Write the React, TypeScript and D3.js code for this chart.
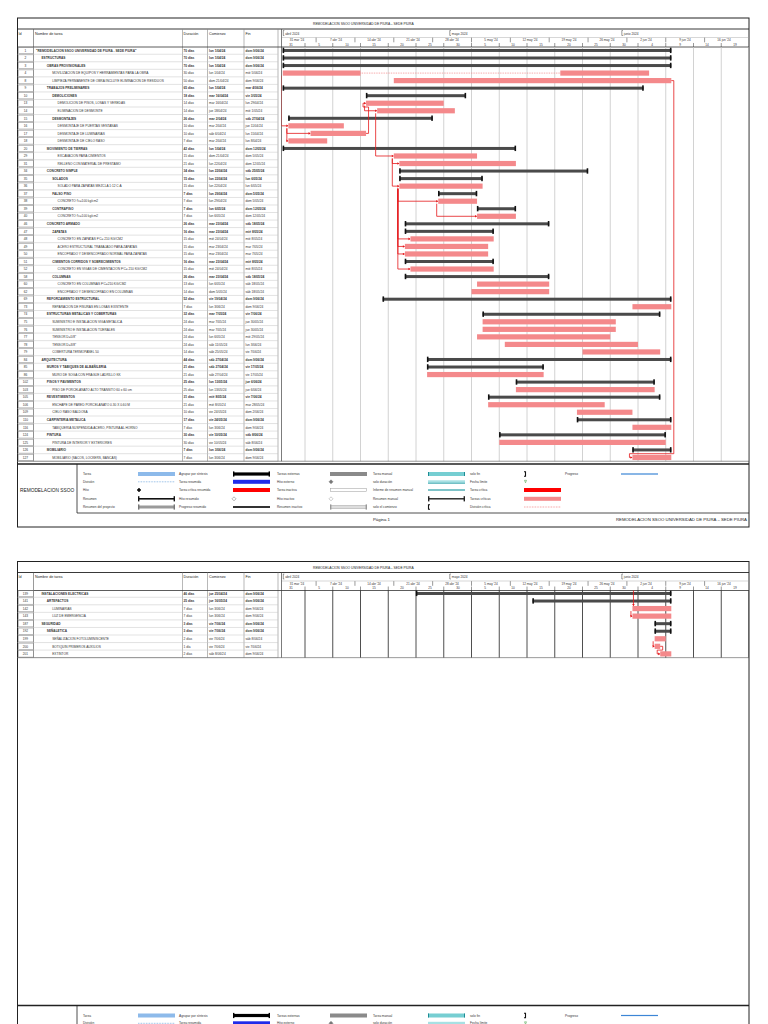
import React from 'react';
import * as d3 from 'd3';

// ---- page 1 tasks ----
const taskIds = [1, 2, 3, 4, 8, 9, 10, 13, 14, 15, 16, 17, 18, 20, 29, 31, 34, 35, 36, 37, 38, 39, 40, 46, 47, 48, 49, 50, 51, 52, 58, 60, 62, 69, 73, 74, 75, 76, 77, 78, 79, 84, 85, 86, 102, 103, 105, 106, 109, 110, 116, 124, 125, 126, 127];
const taskNames = [
  '"REMODELACION SSOO UNIVERSIDAD DE PIURA - SEDE PIURA"', 'ESTRUCTURAS', 'OBRAS PROVISIONALES',
  'MOVILIZACION DE EQUIPOS Y HERRAMIENTAS PARA LA OBRA', 'LIMPIEZA PERMANENTE DE OBRA INCLUYE ELIMINACION DE RESIDUOS',
  'TRABAJOS PRELIMINARES', 'DEMOLICIONES', 'DEMOLICION DE PISOS, LOSAS Y VEREDAS', 'ELIMINACION DE DESMONTE',
  'DESMONTAJES', 'DESMONTAJE DE PUERTAS VENTANAS', 'DESMONTAJE DE LUMINARIAS', 'DESMONTAJE DE CIELO RASO',
  'MOVIMIENTO DE TIERRAS', 'EXCAVACION PARA CIMIENTOS', 'RELLENO CON MATERIAL DE PRESTAMO', 'CONCRETO SIMPLE',
  'SOLADOS', 'SOLADO PARA ZAPATAS MEZCLA 1:12 C:A', 'FALSO PISO', "CONCRETO f'c=100 kg/cm2", 'CONTRAPISO',
  "CONCRETO f'c=100 kg/cm2", 'CONCRETO ARMADO', 'ZAPATAS', "CONCRETO EN ZAPATAS F'C= 210 KG/CM2",
  'ACERO ESTRUCTURAL TRABAJADO PARA ZAPATAS', 'ENCOFRADO Y DESENCOFRADO NORMAL PARA ZAPATAS',
  'CIMIENTOS CORRIDOS Y SOBRECIMIENTOS', "CONCRETO EN VIGAS DE CIMENTACION F'C= 210 KG/CM2", 'COLUMNAS',
  "CONCRETO EN COLUMNAS F'C=210 KG/CM2", 'ENCOFRADO Y DESENCOFRADO EN COLUMNAS', 'REFORZAMIENTO ESTRUCTURAL',
  'REPARACION DE FISURAS EN LOSAS EXISTENTE', 'ESTRUCTURAS METALICAS Y COBERTURAS',
  'SUMINISTRO E INSTALACION VIGA METALICA', 'SUMINISTRO E INSTALACION TIJERALES', 'TENSOR D=5/8"', 'TENSOR D=3/8"',
  'COBERTURA TERMOPANEL 50', 'ARQUITECTURA', 'MUROS Y TABIQUES DE ALBAÑILERIA', 'MURO DE SOGA CON FRAGUE LADRILLO KK',
  'PISOS Y PAVIMENTOS', 'PISO DE PORCELANATO ALTO TRANSITO 60 x 60 cm', 'REVESTIMIENTOS',
  'ENCHAPE DE PARED PORCELANATO 0.30 X 0.60 M', 'CIELO RASO BALDOSA', 'CARPINTERIA METALICA',
  'TABIQUERIA SUSPENDIDA ACERO, PINTURA AL HORNO', 'PINTURA', 'PINTURA DE INTERIOR Y EXTERIORES', 'MOBILIARIO',
  'MOBILIARIO (SACOS, LOCKERS, BANCAS)',
];
const taskLevels = [0, 1, 2, 3, 3, 2, 3, 4, 4, 3, 4, 4, 4, 2, 4, 4, 2, 3, 4, 3, 4, 3, 4, 2, 3, 4, 4, 4, 3, 4, 3, 4, 4, 2, 3, 2, 3, 3, 3, 3, 3, 1, 2, 3, 2, 3, 2, 3, 3, 2, 3, 2, 3, 2, 3];
const taskSummary = [1, 1, 1, 0, 0, 1, 1, 0, 0, 1, 0, 0, 0, 1, 0, 0, 1, 1, 0, 1, 0, 1, 0, 1, 1, 0, 0, 0, 1, 0, 1, 0, 0, 1, 0, 1, 0, 0, 0, 0, 0, 1, 1, 0, 1, 0, 1, 0, 0, 1, 0, 1, 0, 1, 0];
const taskStarts = [
  '2024-04-01', '2024-04-01', '2024-04-01', '2024-04-01', '2024-04-21', '2024-04-01', '2024-04-16', '2024-04-16',
  '2024-04-18', '2024-04-02', '2024-04-02', '2024-04-06', '2024-04-02', '2024-04-01', '2024-04-21', '2024-04-22',
  '2024-04-22', '2024-04-22', '2024-04-22', '2024-04-29', '2024-04-29', '2024-05-06', '2024-05-06', '2024-04-23',
  '2024-04-23', '2024-04-24', '2024-04-23', '2024-04-23', '2024-04-23', '2024-04-24', '2024-04-23', '2024-05-06',
  '2024-05-05', '2024-04-19', '2024-06-03', '2024-05-07', '2024-05-07', '2024-05-07', '2024-05-06', '2024-05-11',
  '2024-05-25', '2024-04-27', '2024-04-27', '2024-04-27', '2024-05-13', '2024-05-13', '2024-05-08', '2024-05-08',
  '2024-05-24', '2024-05-24', '2024-06-03', '2024-05-10', '2024-05-10', '2024-06-03', '2024-06-03',
];
const taskEnds = [
  '2024-06-09', '2024-06-09', '2024-06-09', '2024-06-05', '2024-06-09', '2024-06-04', '2024-05-03', '2024-04-29',
  '2024-05-01', '2024-04-27', '2024-04-11', '2024-04-15', '2024-04-08', '2024-05-12', '2024-05-05', '2024-05-12',
  '2024-05-25', '2024-05-06', '2024-05-06', '2024-05-05', '2024-05-05', '2024-05-12', '2024-05-12', '2024-05-18',
  '2024-05-08', '2024-05-08', '2024-05-07', '2024-05-07', '2024-05-08', '2024-05-08', '2024-05-18', '2024-05-18',
  '2024-05-18', '2024-06-09', '2024-06-09', '2024-06-07', '2024-05-30', '2024-05-30', '2024-05-29', '2024-06-03',
  '2024-06-07', '2024-06-09', '2024-05-17', '2024-05-17', '2024-06-06', '2024-06-06', '2024-06-07', '2024-05-28',
  '2024-06-02', '2024-06-09', '2024-06-09', '2024-06-08', '2024-06-08', '2024-06-09', '2024-06-09',
];
const splitIds = [4];
const splitFrom = ['2024-04-15'];
const splitTo = ['2024-05-20'];

const linkFrom = [4, 16, 16, 17, 13, 14, 29, 29, 36, 38, 36, 36, 36, 36, 8];
const linkTo = [16, 17, 18, 13, 14, 29, 31, 36, 38, 40, 48, 49, 50, 52, 127];
const linkType = ['SS', 'SS', 'SS', 'FS', 'SS', 'SS', 'SS', 'SS', 'SS', 'SS', 'SS', 'SS', 'SS', 'SS', 'FS'];

// ---- page 2 tasks ----
const p2Ids = [139, 141, 142, 143, 187, 192, 199, 200, 201];
const p2Names = ['INSTALACIONES ELECTRICAS', 'ARTEFACTOS', 'LUMINARIAS', 'LUZ DE EMERGENCIA', 'SEGURIDAD', 'SEÑALETICA', 'SEÑALIZACION FOTOLUMINISCENTE', 'BOTIQUIN PRIMEROS AUXILIOS', 'EXTINTOR'];
const p2Levels = [1, 2, 3, 3, 1, 2, 3, 3, 3];
const p2Summary = [1, 1, 0, 0, 1, 1, 0, 0, 0];
const p2Starts = ['2024-04-25', '2024-05-16', '2024-06-03', '2024-06-03', '2024-06-07', '2024-06-07', '2024-06-07', '2024-06-07', '2024-06-08'];
const p2Ends = ['2024-06-09', '2024-06-09', '2024-06-09', '2024-06-09', '2024-06-09', '2024-06-09', '2024-06-08', '2024-06-07', '2024-06-09'];
const p2LinkFrom = [142, 199, 200];
const p2LinkTo = [143, 200, 201];
const p2LinkType = ['SS', 'SS', 'FS'];
const p2Incoming = [142];

const monthNames = ['enero', 'febrero', 'marzo', 'abril', 'mayo', 'junio'];
const monthShort = ['ene', 'feb', 'mar', 'abr', 'may', 'jun'];
const dayAbbr = ['dom', 'lun', 'mar', 'mié', 'jue', 'vie', 'sáb'];

const legendLabels = [
  ['Tarea', 'División', 'Hito', 'Resumen', 'Resumen del proyecto'],
  ['Agrupar por síntesis', 'Tarea resumida', 'Tarea crítica resumida', 'Hito resumido', 'Progreso resumido'],
  ['Tareas externas', 'Hito externo', 'Tarea inactiva', 'Hito inactivo', 'Resumen inactivo'],
  ['Tarea manual', 'solo duración', 'Informe de resumen manual', 'Resumen manual', 'solo el comienzo'],
  ['solo fin', 'Fecha límite', 'Tarea crítica', 'Tareas críticas', 'División crítica'],
  ['Progreso'],
];
const legendSymbols = [
  ['task', 'split', 'milestone', 'summary', 'projsum'],
  ['group', 'rolledTask', 'rolledCrit', 'rolledMile', 'rolledProg'],
  ['external', 'extMile', 'inactive', 'inactMile', 'inactSum'],
  ['manual', 'durOnly', 'manualRollup', 'manualSum', 'startOnly'],
  ['finishOnly', 'deadline', 'crit', 'critPink', 'critSplit'],
  ['progress'],
];

const FONT = '"Liberation Sans", Arial, sans-serif';
const parse = d3.timeParse('%Y-%m-%d');
const origin = new Date(2024, 2, 31);
const X0 = 277.25;
const PX_DAY = 5.55;
const x = d3.scaleTime().domain([origin, d3.timeDay.offset(origin, 90)]).range([X0, X0 + 90 * PX_DAY]);
const L = 17.5, R = 749, TBL_R = 278, G_L = 281.5;
const PINK = '#F4898B';
const RED = '#E4191C';

const fmtDate = (d: Date) => `${dayAbbr[d.getDay()]} ${d.getDate()}/${String(d.getMonth() + 1).padStart(2, '0')}/${String(d.getFullYear()).slice(2)}`;

type Row = { id: number; name: string; level: number; summary: boolean; start: Date; end: Date; dur: number; x0: number; x1: number; y: number; top: number; split: number[] | null };

function buildRows(ids: number[], names: string[], levels: number[], summ: number[], starts: string[], ends: string[], bodyTop: number, rowH: number): Row[] {
  return ids.map((id, i) => {
    const s = parse(starts[i])!, e = parse(ends[i])!;
    const si = splitIds.indexOf(id);
    let gap = 0, split: number[] | null = null;
    if (si >= 0) {
      const gs = parse(splitFrom[si])!, ge = parse(splitTo[si])!;
      gap = d3.timeDay.count(gs, ge) + 1;
      split = [x(gs), x(d3.timeDay.offset(ge, 1))];
    }
    return {
      id, name: names[i], level: levels[i], summary: !!summ[i], start: s, end: e,
      dur: d3.timeDay.count(s, e) + 1 - gap,
      x0: x(s), x1: x(d3.timeDay.offset(e, 1)),
      top: bodyTop + rowH * i, y: bodyTop + rowH * i + rowH / 2, split,
    };
  });
}

function Arrow({ x: ax, y, dir }: { x: number; y: number; dir: 'r' | 'd' }) {
  const p = dir === 'r' ? `M${ax},${y} l-2,-1.3 l0,2.6 z` : `M${ax},${y} l-1.3,-2 l2.6,0 z`;
  return <path d={p} fill={RED} />;
}

function Link({ p, s, type, rowH }: { p: Row; s: Row; type: string; rowH: number }) {
  if (type === 'SS') {
    const lx = p.x0 - 1.5;
    const y0 = s.y > p.y ? p.y + 2.5 : p.y - 2.5;
    return (
      <g>
        <path d={`M${lx},${y0} V${s.y} H${s.x0 - 0.5}`} fill="none" stroke={RED} strokeWidth={0.8} />
        <Arrow x={s.x0} y={s.y} dir="r" />
      </g>
    );
  }
  const ex = p.x1;
  if (s.x0 > ex + 3 && s.y > p.y) {
    return (
      <g>
        <path d={`M${ex},${p.y} H${s.x0 + 1.5} V${s.y - 2.8}`} fill="none" stroke={RED} strokeWidth={0.8} />
        <Arrow x={s.x0 + 1.5} y={s.y - 2.6} dir="d" />
      </g>
    );
  }
  const midY = s.y > p.y ? s.top : s.top + rowH;
  return (
    <g>
      <path d={`M${ex},${p.y} H${ex + 2.5} V${midY} H${s.x0 - 3} V${s.y} H${s.x0 - 0.5}`} fill="none" stroke={RED} strokeWidth={0.8} />
      <Arrow x={s.x0} y={s.y} dir="r" />
    </g>
  );
}

function Bar({ r }: { r: Row }) {
  if (r.summary) {
    return (
      <g>
        <rect x={r.x0} y={r.y - 1.5} width={r.x1 - r.x0} height={3} fill="#4a4a4a" />
        <rect x={r.x0 - 0.2} y={r.y - 2.8} width={1.6} height={5.4} fill="#111" />
        <rect x={r.x1 - 1.4} y={r.y - 2.8} width={1.6} height={5.4} fill="#111" />
      </g>
    );
  }
  if (r.split) {
    return (
      <g>
        <rect x={r.x0} y={r.y - 2.6} width={r.split[0] - r.x0} height={5.2} fill={PINK} />
        <line x1={r.split[0]} x2={r.split[1]} y1={r.y} y2={r.y} stroke={PINK} strokeWidth={0.9} strokeDasharray="0.8 0.9" />
        <rect x={r.split[1]} y={r.y - 2.6} width={r.x1 - r.split[1]} height={5.2} fill={PINK} />
      </g>
    );
  }
  return <rect x={r.x0} y={r.y - 2.6} width={r.x1 - r.x0} height={5.2} fill={PINK} />;
}

function Sym({ kind, x0, y }: { kind: string; x0: number; y: number }) {
  const w = 37, x1 = x0 + w;
  const caps = (c: string) => (
    <g>
      <rect x={x0} y={y - 2.6} width={1.4} height={5.2} fill={c} />
      <rect x={x1 - 1.4} y={y - 2.6} width={1.4} height={5.2} fill={c} />
    </g>
  );
  const dia = (cx: number, fill: string, stroke: string) => <path d={`M${cx},${y - 2} l2,2 l-2,2 l-2,-2 z`} fill={fill} stroke={stroke} strokeWidth={0.5} />;
  switch (kind) {
    case 'task': return <rect x={x0} y={y - 2} width={w} height={4} fill="#8DBAEA" />;
    case 'split': return <line x1={x0} x2={x1} y1={y} y2={y} stroke="#6FA6DD" strokeWidth={0.8} strokeDasharray="0.8 0.8" />;
    case 'milestone': return dia(x0 + 1, '#111', '#111');
    case 'summary': return <g><rect x={x0} y={y - 0.8} width={w} height={1.6} fill="#111" />{caps('#111')}</g>;
    case 'projsum': return <g><rect x={x0} y={y - 1.5} width={w} height={3} fill="#9a9a9a" />{caps('#777')}</g>;
    case 'group': return <g><rect x={x0} y={y - 1.6} width={w} height={3.2} fill="#000" />{caps('#000')}</g>;
    case 'rolledTask': return <rect x={x0} y={y - 2} width={w} height={4} fill="#1F2BEA" />;
    case 'rolledCrit': return <rect x={x0} y={y - 2} width={w} height={4} fill="#FF0000" />;
    case 'rolledMile': return dia(x0 + 1, '#fff', '#666');
    case 'rolledProg': return <rect x={x0} y={y - 0.8} width={w} height={1.6} fill="#000" />;
    case 'external': return <rect x={x0} y={y - 2} width={w} height={4} fill="#8a8a8a" />;
    case 'extMile': return dia(x0 + 1, '#777', '#777');
    case 'inactive': return <rect x={x0 + 0.3} y={y - 1.7} width={w - 0.6} height={3.4} fill="#fff" stroke="#999" strokeWidth={0.5} />;
    case 'inactMile': return dia(x0 + 1, '#fff', '#999');
    case 'inactSum': return <g><rect x={x0 + 0.3} y={y - 1.3} width={w - 0.6} height={2.6} fill="#ddd" stroke="#999" strokeWidth={0.5} />{caps('#999')}</g>;
    case 'manual': return <g><rect x={x0} y={y - 2} width={w} height={4} fill="#76CED2" /><rect x={x0} y={y - 2} width={1} height={4} fill="#1E8C94" /><rect x={x1 - 1} y={y - 2} width={1} height={4} fill="#1E8C94" /></g>;
    case 'durOnly': return <g><rect x={x0} y={y - 1.5} width={w} height={3} fill="#A7E0E3" /><rect x={x0} y={y + 1} width={w} height={0.8} fill="#2A9CA4" /></g>;
    case 'manualRollup': return <rect x={x0} y={y - 0.6} width={w} height={1.2} fill="#2A9CA4" />;
    case 'manualSum': return <g><rect x={x0} y={y - 0.7} width={w} height={1.4} fill="#222" />{caps('#222')}</g>;
    case 'startOnly': return <path d={`M${x0 + 2},${y - 2.2} h-1.5 v4.4 h1.5`} fill="none" stroke="#111" strokeWidth={1.1} />;
    case 'finishOnly': return <path d={`M${x0},${y - 2.2} h1.5 v4.4 h-1.5`} fill="none" stroke="#111" strokeWidth={1.1} />;
    case 'deadline': return <path d={`M${x0 + 0.5},${y - 1.5} h2 l-1,2.5 z`} fill="#fff" stroke="#3a9a3a" strokeWidth={0.5} />;
    case 'crit': return <rect x={x0} y={y - 2} width={w} height={4} fill="#FF0000" />;
    case 'critPink': return <rect x={x0} y={y - 2} width={w} height={4} fill={PINK} />;
    case 'critSplit': return <line x1={x0} x2={x1} y1={y} y2={y} stroke={PINK} strokeWidth={0.9} strokeDasharray="0.8 0.8" />;
    case 'progress': return <rect x={x0} y={y - 0.6} width={w} height={1.2} fill="#3D86D6" />;
    default: return null;
  }
}

function Legend({ top, showName, rowsShown }: { top: number; showName: boolean; rowsShown: number }) {
  const labelX = [83, 179, 277, 373, 470, 565];
  const symX = [138, 233, 330, 428, 524, 621];
  const rowY = [10, 17.8, 26, 34.8, 43];
  return (
    <g>
      <line x1={L} x2={R} y1={top} y2={top} stroke="#222" strokeWidth={1.3} />
      <line x1={77} x2={77} y1={top} y2={top + 49} stroke="#222" strokeWidth={0.8} />
      <line x1={77} x2={R} y1={top + 49} y2={top + 49} stroke="#222" strokeWidth={0.8} />
      {showName && <text x={20} y={top + 27.5} fontSize={4.8} fill="#222">REMODELACION SSOO</text>}
      {legendLabels.map((col, ci) => col.slice(0, rowsShown).map((lab, ri) => (
        <g key={`${ci}-${ri}`}>
          <text x={labelX[ci]} y={top + rowY[ri] + 1.1} fontSize={3.2} fill="#333">{lab}</text>
          <Sym kind={legendSymbols[ci][ri]} x0={symX[ci]} y={top + rowY[ri]} />
        </g>
      )))}
    </g>
  );
}

function Page({ top, rows, links, incoming, rowH, tableBottom, gridColor, clipId }: {
  top: number; rows: Row[]; links: { p: Row; s: Row; type: string }[]; incoming: number[]; rowH: number; tableBottom: number; gridColor: string; clipId: string;
}) {
  const hTop = top + 11, bodyTop = top + 29;
  const gridDays = d3.timeDay.range(d3.timeDay.offset(origin, 5), d3.timeDay.offset(origin, 86), 5);
  const weeks = d3.timeSunday.range(d3.timeDay.offset(origin, -1), d3.timeDay.offset(origin, 91))
    .filter((w) => x(w) + 3.5 * PX_DAY < R - 6);
  const months = d3.timeMonth.range(new Date(2024, 3, 1), new Date(2024, 6, 1));
  const dayTicks = d3.timeDay.range(origin, d3.timeDay.offset(origin, 85), 5);
  const colX = [L, 33.5, 182.5, 207.5, 244, TBL_R];
  return (
    <g fontFamily={FONT}>
      <defs>
        <clipPath id={clipId}><rect x={G_L} y={hTop} width={R - G_L} height={tableBottom - hTop + 1} /></clipPath>
      </defs>
      {/* title */}
      <text x={313} y={top + 7.2} fontSize={3.3} fill="#222">REMODELACION SSOO UNIVERSIDAD DE PIURA – SEDE PIURA</text>
      <line x1={L} x2={R} y1={hTop} y2={hTop} stroke="#222" strokeWidth={0.9} />
      {/* table header */}
      <text x={18.5} y={hTop + 5.5} fontSize={3.7} fill="#222">Id</text>
      <text x={35} y={hTop + 5.5} fontSize={3.7} fill="#222">Nombre de tarea</text>
      <text x={183.5} y={hTop + 5.5} fontSize={3.7} fill="#222">Duración</text>
      <text x={209} y={hTop + 5.5} fontSize={3.7} fill="#222">Comienzo</text>
      <text x={245.5} y={hTop + 5.5} fontSize={3.7} fill="#222">Fin</text>
      {colX.slice(1).map((cx, i) => (
        <line key={i} x1={cx} x2={cx} y1={hTop} y2={tableBottom} stroke={i === 0 ? '#555' : '#888'} strokeWidth={0.6} />
      ))}
      <line x1={G_L} x2={G_L} y1={hTop} y2={tableBottom} stroke="#444" strokeWidth={0.7} />
      <line x1={L} x2={R} y1={bodyTop} y2={bodyTop} stroke="#333" strokeWidth={0.8} />
      {/* timescale */}
      <g clipPath={`url(#${clipId})`}>
        {months.map((m) => (
          <g key={+m}>
            <path d={`M${x(m) + 1.5},${hTop + 1.5} h-1 v5 h1`} fill="none" stroke="#333" strokeWidth={0.5} />
            <text x={x(m) + 2.5} y={hTop + 5.5} fontSize={3.2} fill="#333">{`${monthNames[m.getMonth()]} ${m.getFullYear()}`}</text>
          </g>
        ))}
        <line x1={G_L} x2={R} y1={hTop + 8.5} y2={hTop + 8.5} stroke="#999" strokeWidth={0.4} />
        {weeks.map((w) => (
          <g key={+w}>
            <line x1={x(w)} x2={x(w)} y1={hTop + 8.7} y2={hTop + 13.3} stroke="#333" strokeWidth={0.5} />
            <text x={Math.round(x(w) + 3.5 * PX_DAY)} y={hTop + 12.2} fontSize={3.1} fill="#333" textAnchor="middle">{`${w.getDate()} ${monthShort[w.getMonth()]} '24`}</text>
          </g>
        ))}
        {dayTicks.map((d) => (
          <g key={+d}>
            <line x1={x(d)} x2={x(d)} y1={hTop + 14} y2={bodyTop} stroke="#333" strokeWidth={0.5} />
            <text x={Math.round(x(d) + 2.5 * PX_DAY)} y={hTop + 16.7} fontSize={3.1} fill="#333" textAnchor="middle">{d.getDate()}</text>
          </g>
        ))}
        {gridDays.map((d) => (
          <line key={+d} x1={x(d)} x2={x(d)} y1={bodyTop} y2={tableBottom} stroke={gridColor} strokeWidth={0.8} />
        ))}
      </g>
      {/* rows */}
      {rows.map((r) => (
        <g key={r.id}>
          <line x1={L} x2={TBL_R} y1={r.top + rowH} y2={r.top + rowH} stroke="#c4c4c4" strokeWidth={0.5} />
          <rect x={L + 1} y={r.top + 0.6} width={15} height={rowH - 1.2} fill="none" stroke="#8a8a8a" strokeWidth={0.5} />
          <text x={25.5} y={r.y + 1.2} fontSize={3.2} fill="#333" textAnchor="middle">{r.id}</text>
          <text x={36 + r.level * 5.4} y={r.y + 1.2} fontSize={3.2} fill="#333" fontWeight={r.summary ? 'bold' : 'normal'}>{r.name}</text>
          <text x={183.5} y={r.y + 1.2} fontSize={3.2} fill="#333" fontWeight={r.summary ? 'bold' : 'normal'}>{`${r.dur} día${r.dur === 1 ? '' : 's'}`}</text>
          <text x={209} y={r.y + 1.2} fontSize={3.2} fill="#333" fontWeight={r.summary ? 'bold' : 'normal'}>{fmtDate(r.start)}</text>
          <text x={245.5} y={r.y + 1.2} fontSize={3.2} fill="#333" fontWeight={r.summary ? 'bold' : 'normal'}>{fmtDate(r.end)}</text>
        </g>
      ))}
      <line x1={L} x2={R} y1={tableBottom} y2={tableBottom} stroke="#555" strokeWidth={0.6} />
      <g clipPath={`url(#${clipId})`}>
        {rows.map((r) => <Bar key={r.id} r={r} />)}
        {links.map((l, i) => <Link key={i} p={l.p} s={l.s} type={l.type} rowH={rowH} />)}
        {incoming.map((id) => {
          const s = rows.find((r) => r.id === id)!;
          return (
            <g key={id}>
              <path d={`M${s.x0 + 1},${bodyTop} V${s.y - 2.8}`} fill="none" stroke={RED} strokeWidth={0.8} />
              <Arrow x={s.x0 + 1} y={s.y - 2.6} dir="d" />
            </g>
          );
        })}
      </g>
    </g>
  );
}

function makeLinks(rows: Row[], from: number[], to: number[], types: string[]) {
  const byId = new Map(rows.map((r) => [r.id, r]));
  return from.map((f, i) => ({ p: byId.get(f)!, s: byId.get(to[i])!, type: types[i] })).filter((l) => l.p && l.s);
}

export default function App() {
  const rowH1 = 7.537;
  const top1 = 18;
  const rows1 = buildRows(taskIds, taskNames, taskLevels, taskSummary, taskStarts, taskEnds, top1 + 28.7, rowH1);
  const bottom1 = top1 + 28.7 + rowH1 * rows1.length;
  const top2 = 561.5;
  const rowH2 = 7.55;
  const rows2 = buildRows(p2Ids, p2Names, p2Levels, p2Summary, p2Starts, p2Ends, top2 + 28.2, rowH2);
  const bottom2 = top2 + 28.2 + rowH2 * rows2.length;
  return (
    <svg width={768} height={1024} style={{ position: 'absolute', left: 0, top: 0, background: '#fff' }} fontFamily={FONT}>
      <rect width={768} height={1024} fill="#fff" />
      <g opacity={0.999}>
        {/* page 1 */}
        <rect x={L} y={top1} width={R - L} height={509} fill="none" stroke="#222" strokeWidth={1} />
        <Page top={top1} rows={rows1} links={makeLinks(rows1, linkFrom, linkTo, linkType)} incoming={[]} rowH={rowH1} tableBottom={bottom1} gridColor="#c6c6c6" clipId="clip1" />
        <Legend top={464} showName={true} rowsShown={5} />
        <text x={373} y={520.5} fontSize={4.3} fill="#222">Página 1</text>
        <text x={747} y={520.5} fontSize={4.3} fill="#222" textAnchor="end">REMODELACION SSOO UNIVERSIDAD DE PIURA – SEDE PIURA</text>
        {/* page 2 */}
        <rect x={L} y={top2} width={R - L} height={480} fill="none" stroke="#222" strokeWidth={1} />
        <Page top={top2} rows={rows2} links={makeLinks(rows2, p2LinkFrom, p2LinkTo, p2LinkType)} incoming={p2Incoming} rowH={rowH2} tableBottom={bottom2} gridColor="#222" clipId="clip2" />
        <Legend top={1005.5} showName={false} rowsShown={2} />
      </g>
    </svg>
  );
}
